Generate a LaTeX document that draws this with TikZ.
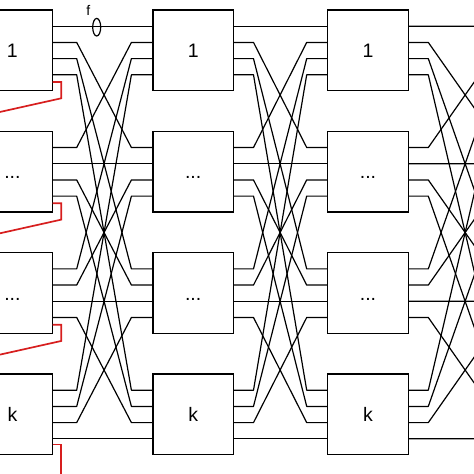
\documentclass[tikz,border=0pt]{standalone}
\usepackage{fontspec}
\setmainfont{Liberation Sans}
\usetikzlibrary{calc}
\newcommand\tridots{.\kern0pt.\kern0pt.}
\begin{document}
\begin{tikzpicture}[x=1pt,y=-1pt,
  blk/.style={draw, fill=white, line width=1.3pt, minimum width=80.6pt, minimum height=80.7pt,
    inner sep=0pt, outer sep=0pt, font=\fontsize{19.5}{19.5}\selectfont, text height=14pt, text depth=0pt},
  wire/.style={line width=1.2pt, line join=round},
  fb/.style={draw={rgb,255:red,215;green,30;blue,30}, line width=1.7pt, line join=miter}]
\useasboundingbox (0,0) rectangle (474,474);
\clip (0,0) rectangle (474,474);
% boxes
\foreach \c/\x in {1/12.4, 2/193.2, 3/368.0}{
  \foreach \i/\t/\lab in {1/10/1, 2/131.33/\tridots, 3/252.67/\tridots, 4/374/k}{
    \node[blk] (b\c\i) at (\x,\t+40.35) {\lab};
    \foreach \j in {1,2,3,4}{
      \coordinate (o\c\i\j) at ($(b\c\i.north east)+(0,{16.2*\j})$);
      \coordinate (n\c\i\j) at ($(b\c\i.north west)+(0,{16.2*\j})$);
    }
  }
}
% input ports of the next (unseen) stage
\foreach \i/\t in {1/10, 2/131.33, 3/252.67, 4/374}{
  \foreach \j in {1,2,3,4}{
    \coordinate (n4\i\j) at (522,{\t+16.2*\j});
  }
}
% wiring: port j of block i goes to port i of block j
\foreach \c/\d/\a/\b in {1/2/24/21.5, 2/3/20/21, 3/4/20/20}{
  \foreach \i in {1,2,3,4}{
    \foreach \j in {1,2,3,4}{
      \draw[wire] (o\c\i\j) -- ++(\a,0) -- ($(n\d\j\i)+(-\b,0)$) -- (n\d\j\i);
    }
  }
}
% f label with ellipse
\draw[line width=1.2pt] (96.7,27.2) ellipse [x radius=4, y radius=8.8];
\node[font=\fontsize{14}{14}\selectfont, inner sep=0pt] (flab) at (88.3,10.5) {f};
% red feedback lines
\foreach \i in {1,2,3}{
  \coordinate (r\i) at ($(b1\i.north east)+(0,72)$);
  \draw[fb] (r\i) -- ++(8.5,0) -- ++(0,16.3) -- ++(-61,13.6) -- ++(-40,9);
}
\coordinate (r4) at ($(b14.north east)+(0,70.5)$);
\draw[fb] (r4) -- ++(8.5,0) -- ++(0,40);
\end{tikzpicture}
\end{document}
